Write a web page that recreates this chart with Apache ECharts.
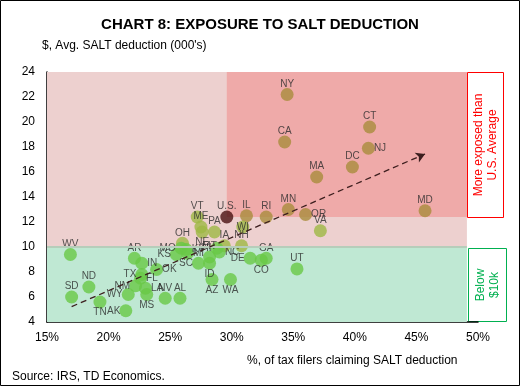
<!DOCTYPE html>
<html><head><meta charset="utf-8">
<script src="https://cdn.jsdelivr.net/npm/echarts@6/dist/echarts.min.js"></script>
<style>html,body{margin:0;padding:0;background:#fff}#c{width:520px;height:386px}</style>
</head><body><div id="c"></div>
<script>
// ---- data ----
const states = ['NY','CT','CA','NJ','DC','MA','MD','MN','OR','RI','IL','WI','VA','NH','IA','HI','NC','MT','ID','SC','DE','GA','CO','UT','WA','AZ','VT','ME','NE','PA','OH','MO','KY','MI','KS','AR','IN','TX','OK','FL','NM','LA','MS','WY','NV','AL','AK','TN','ND','SD','WV'];
const shareFilers = [34.5,41.2,34.3,41.1,39.8,36.9,45.7,34.6,36.0,32.8,31.2,30.9,37.2,30.8,29.4,28.8,29.0,28.2,28.2,27.3,31.5,32.8,32.4,35.3,29.9,28.4,27.2,27.5,27.6,28.6,26.0,25.9,26.3,26.4,25.5,22.1,22.7,22.7,23.9,22.6,22.2,23.0,23.1,21.6,24.6,25.8,21.4,19.3,18.4,17.0,16.9];
const avgDeduction = [22.2,19.6,18.4,17.9,16.4,15.6,12.9,13.0,12.6,12.4,12.5,11.6,11.3,10.1,10.1,9.9,9.6,9.2,8.7,8.7,9.1,9.1,8.95,8.25,7.4,7.4,12.4,11.6,11.2,11.2,10.3,9.9,9.8,9.5,9.4,9.1,8.7,7.8,8.2,7.5,6.9,6.7,6.2,6.2,5.9,5.9,4.9,5.6,6.8,6.0,9.4];
const usPoint = {name:'U.S.', x:29.6, y:12.4};
const threshold = 10;
const zoneRight = 49.1;
const trendStart = [17.0, 5.23];
const trendEnd = [45.7, 17.44];
const xTicks = {min:15, max:50, step:5};
const yTicks = {min:4, max:24, step:2};

// ---- styles ----
const labelPos = {NJ:'right',OR:'right',TX:'left',SC:'left',WY:'left',KS:'left',OK:'right',TN:'bottom',AK:'left',AZ:'bottom',WA:'bottom',MS:'bottom',CO:'bottom',DE:'left',NE:'bottom',ID:'bottom',NC:'right',HI:'left',MI:'right',KY:'right',MO:'left',FL:'right',LA:'right',NM:'left',IN:'right',NH:'top',WI:'inside'};
const colGreen = '#69C846', colOlive = '#9DB843', colBrown = '#A98C3C';

function dotColor(x, y) {
  if (y < threshold) return colGreen;
  if (x >= usPoint.x && y >= usPoint.y) return colBrown;
  return colOlive;
}

const pts = states.map((s, i) => ({
  name: s,
  value: [shareFilers[i], avgDeduction[i]],
  itemStyle: {color: dotColor(shareFilers[i], avgDeduction[i])},
  label: {position: labelPos[s] || 'top', distance: labelPos[s] === 'bottom' ? -1 : -1}
}));

const chart = echarts.init(document.getElementById('c'), null, {renderer: 'canvas'});
const font = 'Arial, "Liberation Sans", sans-serif';

chart.setOption({
  animation: false,
  textStyle: {fontFamily: font},
  title: [
    {text: 'CHART 8: EXPOSURE TO SALT DEDUCTION', left: 'center', top: 12,
     textStyle: {fontSize: 15, fontWeight: 'bold', color: '#000', fontFamily: font}},
    {text: "$, Avg. SALT deduction (000's)", left: 37, top: 35,
     textStyle: {fontSize: 12, fontWeight: 'normal', color: '#000', fontFamily: font}},
    {text: '%, of tax filers claiming SALT deduction', left: 242, top: 350,
     textStyle: {fontSize: 12, fontWeight: 'normal', color: '#000', fontFamily: font}},
    {text: 'Source: IRS, TD Economics.', left: 7, top: 366,
     textStyle: {fontSize: 12, fontWeight: 'normal', color: '#000', fontFamily: font}}
  ],
  grid: {left: 47, right: 42, top: 72, bottom: 64},
  xAxis: {
    type: 'value', min: xTicks.min, max: xTicks.max, interval: xTicks.step,
    axisLine: {show: true, lineStyle: {color: '#000', width: 1.5}},
    axisTick: {show: false}, splitLine: {show: false},
    axisLabel: {formatter: '{value}%', color: '#000', fontSize: 12, margin: 10, fontFamily: font}
  },
  yAxis: {
    type: 'value', min: yTicks.min, max: yTicks.max, interval: yTicks.step,
    axisLine: {show: true, lineStyle: {color: '#000', width: 1.5}},
    axisTick: {show: false}, splitLine: {show: false},
    axisLabel: {color: '#000', fontSize: 12, margin: 12, fontFamily: font}
  },
  series: [
    {
      type: 'scatter', data: [], z: 1, silent: true,
      markArea: {
        silent: true,
        data: [
          [{coord: [xTicks.min, threshold], itemStyle: {color: '#EDD0CF'}}, {coord: [zoneRight, yTicks.max]}],
          [{coord: [usPoint.x, usPoint.y], itemStyle: {color: '#EFAAA9'}}, {coord: [zoneRight, yTicks.max]}],
          [{coord: [xTicks.min, yTicks.min], itemStyle: {color: '#BFE8D3'}}, {coord: [zoneRight, threshold]}]
        ]
      },
      markLine: {
        silent: true, symbol: ['none', 'none'],
        label: {show: false},
        lineStyle: {color: '#B6CDBA', width: 2, type: 'solid'},
        data: [[{coord: [xTicks.min, threshold]}, {coord: [zoneRight, threshold]}]]
      }
    },
    {
      type: 'scatter', symbolSize: 13, z: 3, data: pts,
      label: {show: true, formatter: '{b}', color: '#2a2a2a', fontSize: 10, fontFamily: font},
      markLine: {
        silent: true, symbol: ['none', 'arrow'], symbolSize: [8, 9],
        label: {show: false},
        lineStyle: {color: '#3C1E1E', width: 1.3, type: [6, 4]},
        data: [[{coord: trendStart}, {coord: trendEnd}]]
      }
    },
    {
      type: 'scatter', symbolSize: 13, z: 4,
      data: [{name: usPoint.name, value: [usPoint.x, usPoint.y]}],
      itemStyle: {color: '#4A1212'},
      label: {show: true, formatter: '{b}', position: 'top', distance: -1, color: '#2a2a2a', fontSize: 10, fontFamily: font}
    }
  ],
  graphic: [
    {type: 'rect', shape: {x: 0.5, y: 0.5, width: 519, height: 385}, style: {fill: 'none', stroke: '#000', lineWidth: 1}},
    {type: 'rect', shape: {x: 467.5, y: 72.5, width: 36, height: 145}, style: {fill: '#fff', stroke: '#FF0000', lineWidth: 1}},
    {type: 'text', x: 485.5, y: 145, rotation: Math.PI / 2,
     style: {text: 'More exposed than\nU.S. Average', fill: '#FF0000', font: '12px ' + font, align: 'center', verticalAlign: 'middle', lineHeight: 14}},
    {type: 'rect', shape: {x: 468.5, y: 248.5, width: 38, height: 73}, style: {fill: '#fff', stroke: '#00B050', lineWidth: 1}},
    {type: 'text', x: 487.5, y: 285, rotation: Math.PI / 2,
     style: {text: 'Below\n$10k', fill: '#00B050', font: '12px ' + font, align: 'center', verticalAlign: 'middle', lineHeight: 14}}
  ]
});
</script></body></html>
